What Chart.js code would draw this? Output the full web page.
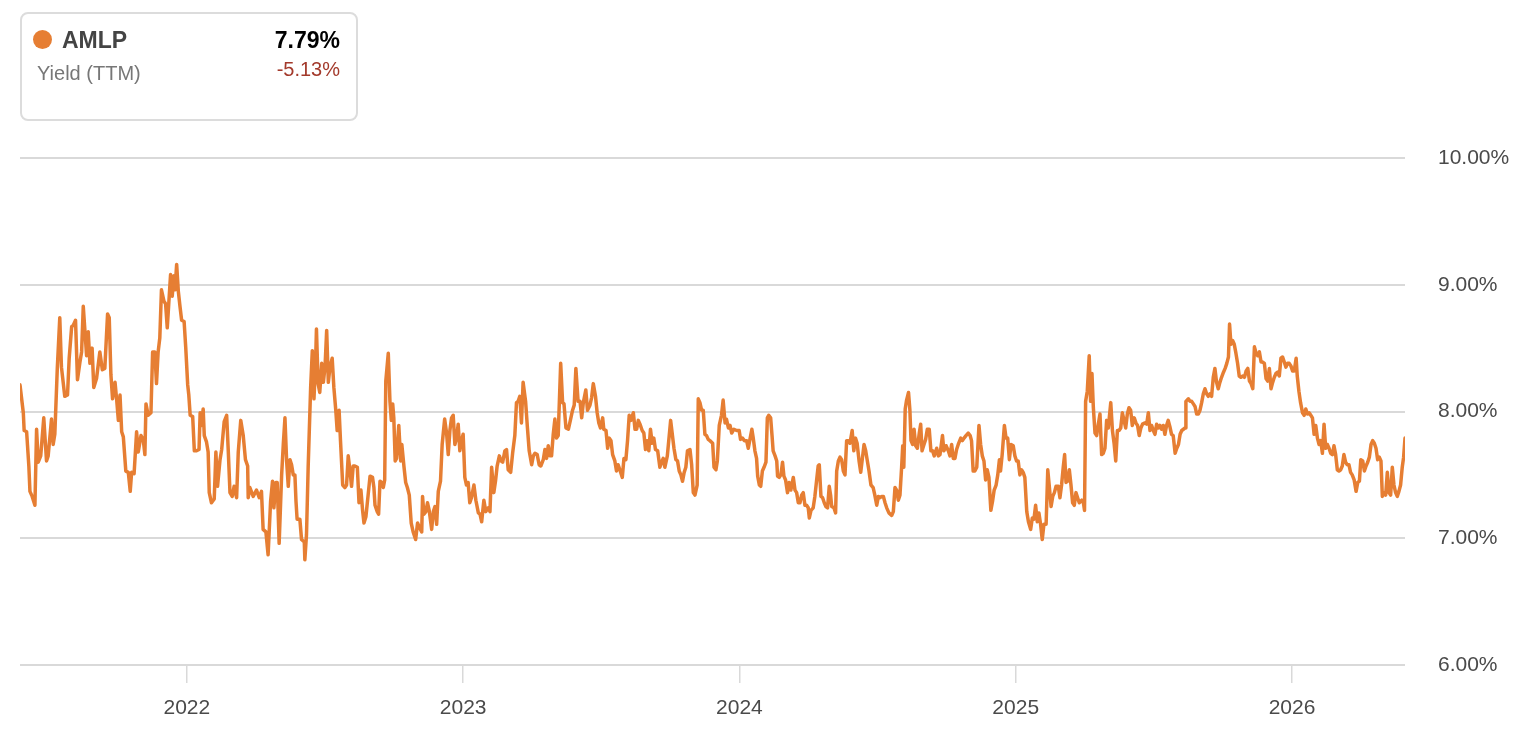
<!DOCTYPE html>
<html>
<head>
<meta charset="utf-8">
<script src="https://cdn.jsdelivr.net/npm/chart.js@4.4.1/dist/chart.umd.min.js"></script>
<style>
html,body{margin:0;padding:0;background:#fff;}
#wrap{position:relative;width:1540px;height:752px;overflow:hidden;font-family:"Liberation Sans",Arial,sans-serif;}
#chart{position:absolute;left:0;top:0;}
.lg{position:absolute;line-height:1;white-space:nowrap;}
</style>
</head>
<body>
<div id="wrap">
<canvas id="chart" width="1540" height="752"></canvas>
<div style="position:absolute;left:20px;top:12px;width:338px;height:109px;box-sizing:border-box;border:2px solid #dcdcdc;border-radius:8px;"></div>
<div style="position:absolute;left:33px;top:30px;width:19px;height:19px;border-radius:50%;background:#e67e33;"></div>
<div class="lg" id="lgName" style="left:62px;top:29px;font-size:23px;font-weight:bold;color:#444;"></div>
<div class="lg" id="lgValue" style="left:180px;width:160px;text-align:right;top:29px;font-size:23px;font-weight:bold;color:#000;"></div>
<div class="lg" id="lgMetric" style="left:37px;top:63px;font-size:20px;color:#777;"></div>
<div class="lg" id="lgChange" style="left:180px;width:160px;text-align:right;top:59px;font-size:20px;color:#a33a2c;"></div>
</div>
<script>
// ---- data ----
const seriesName = 'AMLP';
const metricLabel = 'Yield (TTM)';
const lastValueLabel = '7.79%';
const changeLabel = '-5.13%';
const yearTicks = [2022, 2023, 2024, 2025, 2026];
const yTicks = [6, 7, 8, 9, 10];
const xMin = 2021.396, xMax = 2026.409;

// dates as decimal years
const dates = [
2021.396,2021.408,2021.411,2021.420,2021.428,2021.432,2021.440,2021.450,2021.456,2021.462,
2021.471,2021.482,2021.492,2021.498,2021.510,2021.516,2021.522,2021.531,2021.540,2021.546,
2021.558,2021.568,2021.574,2021.583,2021.589,2021.597,2021.604,2021.613,2021.619,2021.625,
2021.637,2021.643,2021.649,2021.657,2021.663,2021.673,2021.685,2021.694,2021.703,2021.713,
2021.719,2021.725,2021.731,2021.740,2021.746,2021.752,2021.758,2021.764,2021.770,2021.779,
2021.788,2021.795,2021.800,2021.809,2021.818,2021.824,2021.834,2021.842,2021.848,2021.852,
2021.860,2021.870,2021.876,2021.884,2021.890,2021.896,2021.902,2021.908,2021.917,2021.923,
2021.929,2021.935,2021.941,2021.947,2021.953,2021.957,2021.963,2021.969,2021.975,2021.981,
2021.990,2021.996,2022.003,2022.007,2022.012,2022.021,2022.027,2022.035,2022.044,2022.048,
2022.053,2022.059,2022.063,2022.071,2022.077,2022.081,2022.089,2022.099,2022.105,2022.111,
2022.120,2022.126,2022.135,2022.144,2022.150,2022.156,2022.164,2022.171,2022.180,2022.186,
2022.195,2022.204,2022.212,2022.220,2022.222,
2022.228,2022.240,2022.252,2022.262,2022.270,2022.276,2022.286,2022.294,2022.303,2022.310,
2022.315,2022.322,2022.327,2022.334,2022.343,2022.349,2022.355,2022.361,2022.367,2022.373,
2022.379,2022.385,2022.391,2022.395,2022.399,2022.409,2022.415,2022.425,2022.427,2022.433,
2022.439,2022.448,2022.454,2022.460,2022.466,2022.469,2022.475,2022.481,2022.488,2022.494,
2022.500,2022.506,2022.512,2022.518,2022.526,2022.532,2022.539,2022.544,2022.551,2022.556,
2022.564,2022.572,2022.578,2022.584,2022.590,2022.596,2022.602,2022.608,2022.617,2022.623,
2022.630,2022.636,2022.641,2022.648,2022.656,2022.663,2022.672,2022.677,2022.681,2022.689,
2022.694,2022.699,2022.705,2022.711,2022.716,2022.720,2022.729,2022.735,2022.740,2022.745,
2022.749,2022.754,2022.759,2022.767,2022.774,2022.778,2022.786,2022.792,2022.798,2022.805,
2022.812,2022.819,2022.828,2022.835,2022.843,2022.850,2022.853,2022.858,2022.865,2022.871,
2022.877,2022.886,2022.892,2022.898,2022.904,2022.910,2022.918,2022.924,2022.933,2022.940,
2022.946,2022.952,2022.958,2022.964,2022.970,2022.976,2022.982,2022.988,2022.994,2023.000,
2023.006,2023.012,2023.018,2023.024,2023.030,2023.039,2023.046,2023.055,
2023.061,2023.067,2023.075,2023.082,2023.091,2023.097,2023.103,2023.111,2023.117,2023.123,
2023.131,2023.137,2023.143,2023.151,2023.157,2023.163,2023.172,2023.179,2023.187,2023.193,
2023.199,2023.205,2023.211,2023.217,2023.226,2023.232,2023.239,2023.248,2023.254,2023.260,
2023.268,2023.275,2023.281,2023.290,2023.296,2023.302,2023.308,2023.314,2023.320,2023.326,
2023.332,2023.338,2023.344,2023.353,2023.360,2023.365,2023.372,2023.381,2023.389,2023.396,
2023.402,2023.408,2023.416,2023.423,2023.429,2023.435,2023.444,2023.450,2023.459,2023.465,
2023.471,2023.479,2023.485,2023.491,2023.497,2023.505,2023.509,2023.517,2023.523,2023.529,
2023.535,2023.541,2023.549,2023.555,2023.561,2023.567,2023.576,2023.582,2023.589,2023.595,
2023.601,2023.607,2023.616,2023.622,2023.628,2023.634,2023.640,2023.648,2023.654,2023.660,
2023.666,2023.672,2023.678,2023.684,2023.690,2023.696,2023.704,2023.712,2023.718,2023.724,
2023.730,2023.739,2023.745,2023.751,2023.757,2023.763,2023.770,2023.776,2023.782,2023.788,
2023.794,2023.800,2023.806,2023.812,2023.821,2023.827,2023.833,2023.839,2023.847,2023.851,
2023.857,2023.863,2023.869,2023.875,2023.881,2023.887,
2023.893,2023.903,2023.908,2023.915,2023.920,2023.927,2023.935,2023.941,2023.948,2023.953,
2023.960,2023.966,2023.972,2023.980,2023.990,2023.999,2024.004,2024.011,2024.018,2024.026,
2024.032,2024.038,2024.045,2024.050,2024.056,2024.062,2024.066,2024.072,2024.077,2024.083,
2024.089,2024.096,2024.101,2024.106,2024.113,2024.118,2024.122,2024.129,2024.135,2024.138,
2024.144,2024.150,2024.156,2024.161,2024.167,2024.174,2024.180,2024.186,2024.195,2024.201,
2024.207,2024.213,2024.219,2024.225,2024.231,2024.237,2024.243,2024.249,2024.253,2024.259,
2024.267,2024.273,2024.279,2024.285,2024.289,2024.295,2024.301,2024.307,2024.313,2024.319,
2024.325,2024.330,2024.334,2024.342,2024.348,2024.352,2024.358,2024.364,2024.370,2024.376,
2024.382,2024.388,2024.394,2024.400,2024.408,2024.414,2024.420,2024.426,2024.433,2024.439,
2024.445,2024.451,2024.457,2024.463,2024.469,2024.476,2024.484,2024.490,2024.497,2024.503,
2024.509,2024.515,2024.521,2024.527,2024.533,2024.541,2024.551,2024.557,2024.563,2024.569,
2024.575,2024.581,2024.587,2024.591,2024.595,2024.600,2024.605,2024.612,2024.617,2024.621,
2024.627,2024.632,2024.638,2024.644,2024.651,2024.656,2024.661,2024.668,2024.674,2024.680,
2024.687,2024.693,2024.699,2024.705,2024.714,2024.720,
2024.726,2024.735,2024.740,2024.748,2024.756,2024.762,2024.768,2024.774,2024.780,2024.786,
2024.792,2024.801,2024.807,2024.813,2024.820,2024.828,2024.835,2024.840,2024.846,2024.852,
2024.859,2024.867,2024.873,2024.879,2024.885,2024.891,2024.897,2024.903,2024.907,2024.910,
2024.916,2024.922,2024.929,2024.935,2024.941,2024.945,2024.951,2024.959,2024.965,2024.971,
2024.977,2024.983,2024.991,2024.997,2025.003,2025.009,2025.015,2025.021,2025.027,2025.033,
2025.040,2025.046,2025.054,2025.060,2025.066,2025.072,2025.078,2025.084,2025.090,2025.096,
2025.102,2025.110,2025.116,2025.122,2025.128,2025.134,2025.140,2025.146,2025.154,2025.160,
2025.166,2025.172,2025.177,2025.182,2025.188,2025.194,2025.200,2025.206,2025.212,2025.218,
2025.224,2025.230,2025.239,2025.245,2025.249,2025.253,2025.259,2025.266,2025.271,2025.276,
2025.281,2025.287,2025.293,2025.299,2025.305,2025.311,2025.317,2025.323,2025.329,2025.335,
2025.344,2025.350,2025.356,2025.362,2025.368,2025.374,2025.380,2025.386,2025.392,2025.398,
2025.404,2025.410,2025.416,2025.422,2025.429,2025.435,2025.441,2025.447,2025.453,2025.459,
2025.468,2025.474,2025.480,2025.486,2025.492,2025.498,2025.504,2025.510,2025.516,2025.522,
2025.528,2025.534,2025.540,2025.546,2025.552,
2025.558,2025.564,2025.570,2025.577,2025.583,2025.589,2025.595,2025.601,2025.607,2025.613,
2025.616,2025.625,2025.631,2025.637,2025.643,2025.649,2025.655,2025.661,2025.667,2025.673,
2025.679,2025.685,2025.691,2025.697,2025.703,2025.709,2025.715,2025.721,2025.727,2025.733,
2025.739,2025.745,2025.752,2025.758,2025.764,2025.770,2025.774,2025.779,2025.785,2025.791,
2025.797,2025.803,2025.809,2025.815,2025.822,2025.828,2025.834,2025.840,2025.846,2025.852,
2025.858,2025.864,2025.870,2025.876,2025.882,2025.888,2025.894,2025.900,2025.906,2025.912,
2025.918,2025.924,2025.930,2025.936,2025.942,2025.948,2025.954,2025.960,2025.966,2025.972,
2025.978,2025.984,2025.990,2025.996,2026.002,2026.008,2026.015,2026.019,2026.025,2026.031,
2026.038,2026.044,2026.050,2026.056,2026.062,2026.068,2026.074,2026.080,2026.086,2026.092,
2026.098,2026.104,2026.110,2026.116,2026.122,2026.128,2026.134,2026.140,2026.146,2026.152,
2026.158,2026.164,2026.170,2026.176,2026.182,2026.188,2026.194,2026.200,2026.206,2026.212,
2026.218,2026.225,2026.232,2026.238,2026.244,2026.249,2026.256,2026.262,2026.268,2026.274,
2026.280,2026.286,2026.292,2026.298,2026.304,2026.310,2026.316,2026.322,2026.327,2026.333,
2026.339,2026.345,2026.351,2026.357,2026.363,2026.369,2026.375,2026.381,2026.387,2026.393,
2026.399,2026.404,2026.409
];

// yield (TTM), percent
const yields = [
8.21,7.99,7.85,7.84,7.57,7.37,7.33,7.26,7.86,7.60,
7.65,7.95,7.61,7.65,7.94,7.74,7.82,8.34,8.74,8.35,
8.12,8.13,8.42,8.67,8.68,8.72,8.25,8.39,8.47,8.83,
8.44,8.63,8.38,8.50,8.19,8.26,8.47,8.33,8.34,8.77,
8.74,8.29,8.10,8.23,8.09,7.93,8.13,7.84,7.80,7.53,
7.52,7.37,7.52,7.51,7.84,7.68,7.81,7.78,7.66,8.06,
7.97,7.99,8.47,8.47,8.22,8.47,8.58,8.96,8.87,8.85,
8.66,8.87,9.08,8.91,9.07,8.96,9.16,8.95,8.83,8.72,
8.71,8.50,8.21,8.13,7.97,7.96,7.69,7.69,7.70,7.99,
7.89,8.02,7.81,7.76,7.68,7.36,7.28,7.31,7.68,7.41,
7.62,7.70,7.92,7.97,7.68,7.36,7.33,7.41,7.32,7.68,
7.93,7.81,7.62,7.57,7.32,
7.40,7.33,7.38,7.32,7.37,7.07,7.05,6.87,7.29,7.45,
7.24,7.44,7.44,6.96,7.50,7.74,7.95,7.61,7.41,7.62,
7.58,7.50,7.50,7.29,7.15,7.15,6.99,6.97,6.83,7.03,
7.56,8.19,8.48,8.10,8.40,8.65,8.22,8.15,8.38,8.23,
8.35,8.64,8.23,8.35,8.42,8.19,8.01,7.85,8.01,7.77,
7.42,7.40,7.42,7.65,7.54,7.41,7.57,7.57,7.56,7.28,
7.38,7.22,7.12,7.17,7.34,7.49,7.48,7.40,7.26,7.21,
7.19,7.45,7.44,7.40,7.46,8.24,8.46,8.08,7.93,8.06,
7.95,7.61,7.63,7.89,7.61,7.74,7.56,7.44,7.40,7.34,
7.12,7.05,6.99,7.12,7.08,7.05,7.33,7.19,7.21,7.28,
7.22,7.07,7.21,7.25,7.11,7.37,7.45,7.74,7.94,7.83,
7.66,7.85,7.95,7.97,7.74,7.79,7.90,7.69,7.77,7.82,
7.48,7.42,7.44,7.28,7.32,7.42,7.30,7.20,
7.19,7.13,7.30,7.21,7.24,7.21,7.56,7.36,7.45,7.57,
7.65,7.61,7.60,7.69,7.70,7.54,7.52,7.67,7.81,8.07,
8.08,8.12,7.91,8.23,8.08,7.89,7.69,7.58,7.65,7.67,
7.66,7.58,7.57,7.62,7.70,7.63,7.73,7.65,7.65,7.82,
7.94,7.79,7.81,8.38,8.07,8.06,7.87,7.86,7.94,8.01,
8.05,8.34,8.08,8.08,7.95,8.07,8.17,8.01,8.05,8.11,
8.22,8.12,7.99,7.91,7.87,7.95,7.86,7.85,7.71,7.79,
7.77,7.66,7.61,7.53,7.58,7.54,7.48,7.63,7.62,7.77,
7.97,7.93,7.99,7.86,7.86,7.93,7.90,7.85,7.83,7.70,
7.77,7.69,7.86,7.75,7.79,7.70,7.69,7.56,7.60,7.63,
7.56,7.65,7.79,7.93,7.82,7.71,7.62,7.61,7.53,7.50,
7.45,7.52,7.56,7.69,7.70,7.58,7.36,7.34,7.42,8.10,
8.07,8.01,8.01,7.82,7.81,7.78,
7.77,7.75,7.56,7.54,7.61,7.89,7.97,8.09,7.91,7.94,
7.87,7.89,7.83,7.86,7.85,7.85,7.78,7.79,7.77,7.77,
7.71,7.78,7.86,7.79,7.69,7.63,7.49,7.42,7.41,7.53,
7.56,7.60,7.95,7.97,7.95,7.81,7.69,7.65,7.61,7.49,
7.48,7.50,7.60,7.49,7.46,7.36,7.44,7.38,7.48,7.38,
7.36,7.28,7.28,7.34,7.36,7.26,7.26,7.24,7.16,7.22,
7.24,7.33,7.45,7.57,7.58,7.33,7.32,7.28,7.25,7.24,
7.41,7.34,7.25,7.24,7.20,7.53,7.61,7.64,7.62,7.53,
7.50,7.77,7.77,7.75,7.85,7.69,7.79,7.75,7.61,7.52,
7.63,7.74,7.69,7.61,7.53,7.42,7.40,7.34,7.26,7.33,
7.32,7.33,7.33,7.28,7.24,7.20,7.18,7.21,7.40,7.38,
7.30,7.34,7.56,7.73,7.56,8.02,8.09,8.15,8.01,7.77,
7.74,7.86,7.73,7.71,7.83,7.90,7.69,7.74,7.78,7.86,
7.86,7.69,7.69,7.65,7.71,7.65,
7.66,7.81,7.69,7.73,7.69,7.65,7.74,7.63,7.63,7.70,
7.74,7.79,7.77,7.79,7.81,7.83,7.81,7.77,7.53,7.53,
7.56,7.89,7.74,7.65,7.61,7.46,7.54,7.48,7.33,7.22,
7.29,7.38,7.42,7.50,7.62,7.53,7.66,7.89,7.79,7.79,
7.62,7.74,7.73,7.65,7.61,7.61,7.50,7.54,7.52,7.48,
7.21,7.13,7.07,7.16,7.15,7.26,7.13,7.20,7.11,6.99,
7.11,7.11,7.54,7.40,7.25,7.33,7.36,7.41,7.41,7.32,
7.42,7.56,7.66,7.44,7.45,7.54,7.42,7.28,7.26,7.36,
7.32,7.28,7.30,7.28,7.22,8.08,8.16,8.44,8.08,8.30,
8.03,7.83,7.81,7.90,7.98,7.66,7.67,7.71,7.93,7.87,
8.07,7.85,7.75,7.61,7.85,7.85,7.87,7.99,7.93,7.87,
7.98,8.03,8.01,7.89,7.95,7.91,7.89,7.81,7.87,7.90,
7.91,7.90,7.99,7.85,7.89,7.85,7.82,7.90,7.87,7.89,
7.86,7.89,7.82,7.89,7.93,
7.88,7.82,7.81,7.67,7.71,7.74,7.82,7.85,7.86,7.87,
8.08,8.10,8.08,8.08,8.06,8.04,7.98,7.98,8.01,8.07,
8.14,8.18,8.14,8.12,8.14,8.12,8.27,8.34,8.23,8.18,
8.23,8.27,8.31,8.34,8.38,8.43,8.69,8.53,8.56,8.53,
8.46,8.38,8.28,8.27,8.28,8.27,8.32,8.34,8.24,8.22,
8.18,8.51,8.46,8.44,8.47,8.39,8.39,8.38,8.26,8.24,
8.34,8.18,8.23,8.27,8.30,8.31,8.28,8.42,8.43,8.39,
8.35,8.38,8.38,8.36,8.32,8.32,8.42,8.28,8.16,8.07,
7.99,7.97,8.02,7.98,7.99,7.97,7.95,7.82,7.89,7.79,
7.74,7.77,7.67,7.90,7.71,7.74,7.71,7.67,7.66,7.73,
7.66,7.54,7.53,7.54,7.57,7.66,7.60,7.58,7.58,7.52,
7.50,7.46,7.37,7.44,7.45,7.62,7.61,7.53,7.57,7.60,
7.64,7.74,7.77,7.75,7.71,7.62,7.64,7.61,7.33,7.36,
7.34,7.52,7.36,7.34,7.56,7.42,7.36,7.33,7.37,7.42,
7.56,7.64,7.79
];

// ---- legend text ----
document.getElementById('lgName').textContent = seriesName;
document.getElementById('lgValue').textContent = lastValueLabel;
document.getElementById('lgMetric').textContent = metricLabel;
document.getElementById('lgChange').textContent = changeLabel;

// ---- chart ----
const n = Math.min(dates.length, yields.length);
const points = [];
for (let i = 0; i < n; i++) points.push({x: dates[i], y: yields[i]});

const axisFont = {family: '"Liberation Sans", Arial, sans-serif', size: 21};

new Chart(document.getElementById('chart'), {
  type: 'line',
  data: {
    datasets: [{
      label: seriesName,
      data: points,
      borderColor: '#e67e33',
      borderWidth: 3.5,
      pointRadius: 0,
      tension: 0,
      borderJoinStyle: 'round',
      borderCapStyle: 'round',
      fill: false
    }]
  },
  options: {
    responsive: false,
    animation: false,
    layout: {padding: {left: 20, top: 158, right: 0, bottom: 0}},
    plugins: {legend: {display: false}, tooltip: {enabled: false}},
    scales: {
      x: {
        type: 'linear',
        min: xMin,
        max: xMax,
        afterBuildTicks: s => { s.ticks = yearTicks.map(v => ({value: v})); },
        afterFit: s => { s.height = 87; },
        grid: {drawOnChartArea: false, drawTicks: true, tickLength: 18, color: '#d9d9d9', lineWidth: 1.5},
        border: {display: false},
        ticks: {callback: v => String(v), color: '#4a4a4a', font: axisFont, padding: 13, maxRotation: 0, autoSkip: false}
      },
      y: {
        position: 'right',
        min: 6,
        max: 10,
        afterBuildTicks: s => { s.ticks = yTicks.map(v => ({value: v})); },
        afterFit: s => { s.width = 135; },
        grid: {drawTicks: false, color: '#d9d9d9', lineWidth: 2},
        border: {display: false},
        ticks: {callback: v => v.toFixed(2) + '%', color: '#4a4a4a', font: axisFont, padding: 33}
      }
    }
  }
});
</script>
</body>
</html>
